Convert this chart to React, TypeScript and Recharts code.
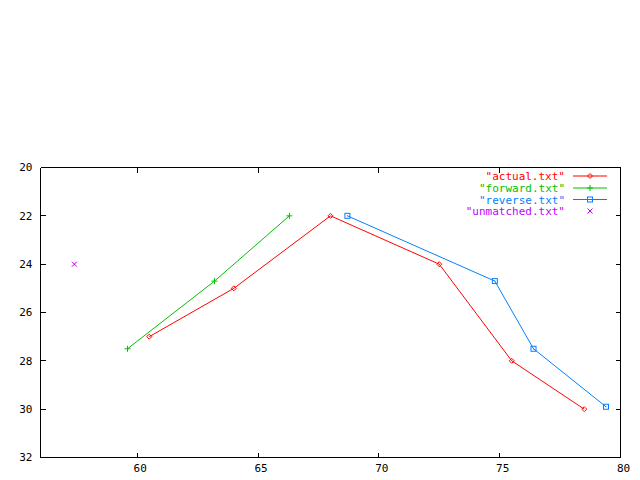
import React from "react";
import { ComposedChart, Line, Scatter, XAxis, YAxis } from "recharts";

// values
const actualX = [60.5, 64, 68, 72.5, 75.5, 78.5];
const actualY = [27, 25, 22, 24, 28, 30];
const forwardX = [59.6, 63.2, 66.3];
const forwardY = [27.5, 24.7, 22];
const reverseX = [68.7, 74.8, 76.4, 79.4];
const reverseY = [22, 24.7, 27.5, 29.9];
const unmatchedX = [57.4];
const unmatchedY = [24];

const xTicks = [60, 65, 70, 75, 80];
const yTicks = [20, 22, 24, 26, 28, 30, 32];
const seriesNames = ['"actual.txt"', '"forward.txt"', '"reverse.txt"', '"unmatched.txt"'];
const seriesColors = ["#ff0000", "#00c000", "#0080ff", "#c000ff"];

const W = 640;
const H = 480;
const FONT = "'DejaVu Sans Mono', monospace";

const toPoints = (xs: number[], ys: number[]) => xs.map((x, i) => ({ x, y: ys[i] }));

const actual = toPoints(actualX, actualY);
const forward = toPoints(forwardX, forwardY);
const reverse = toPoints(reverseX, reverseY);
const unmatched = toPoints(unmatchedX, unmatchedY);

type Shape = "diamond" | "plus" | "square" | "cross";
const shapes: Shape[] = ["diamond", "plus", "square", "cross"];

function Marker({ cx, cy, shape, color }: { cx: number; cy: number; shape: Shape; color: string }) {
  if (cx == null || cy == null) return null;
  const s = { stroke: color, strokeWidth: 1, fill: "none" };
  switch (shape) {
    case "diamond":
      return <path d={`M${cx} ${cy - 2.5}L${cx + 2.5} ${cy}L${cx} ${cy + 2.5}L${cx - 2.5} ${cy}Z`} {...s} />;
    case "plus":
      return <path d={`M${cx - 3} ${cy}H${cx + 3}M${cx} ${cy - 3}V${cy + 3}`} {...s} />;
    case "square":
      return (
        <g>
          <rect x={cx - 2.5} y={cy - 2.5} width={5} height={5} {...s} />
          <rect x={cx - 0.5} y={cy - 0.5} width={1} height={1} fill={color} />
        </g>
      );
    default:
      return <path d={`M${cx - 2.5} ${cy - 2.5}L${cx + 2.5} ${cy + 2.5}M${cx + 2.5} ${cy - 2.5}L${cx - 2.5} ${cy + 2.5}`} {...s} />;
  }
}

const dotFor = (i: number) => (p: any) => (
  <Marker key={`${i}-${p.index}`} cx={p.cx} cy={p.cy} shape={shapes[i]} color={seriesColors[i]} />
);

const noLabel = () => <g />;
const tickText = { fill: "#000", fontFamily: FONT, fontSize: 11 };
const frame = { stroke: "#000", strokeWidth: 1, shapeRendering: "crispEdges" };

function KeyBox() {
  const textRight = 565;
  const lineL = 573;
  const lineR = 607;
  const rows = [176, 188, 199.5, 211];
  return (
    <svg width={W} height={H} style={{ position: "absolute", left: 0, top: 0, pointerEvents: "none" }}>
      {seriesNames.map((name, i) => (
        <g key={name}>
          <text x={textRight} y={rows[i] + 4} textAnchor="end" fontFamily={FONT} fontSize={11} fill={seriesColors[i]}>
            {name}
          </text>
          {i < 3 && <line x1={lineL} x2={lineR} y1={rows[i]} y2={rows[i]} stroke={seriesColors[i]} />}
          <Marker cx={(lineL + lineR) / 2} cy={rows[i]} shape={shapes[i]} color={seriesColors[i]} />
        </g>
      ))}
    </svg>
  );
}

export default function App() {
  return (
    <div style={{ position: "absolute", left: 0, top: 0, width: W, height: H, background: "#fff" }}>
      <ComposedChart
        width={W}
        height={H}
        margin={{ top: 166.5, right: 18.5, bottom: 0, left: 0.5 }}
      >
        <XAxis
          xAxisId="b"
          type="number"
          dataKey="x"
          domain={[56, 80]}
          ticks={xTicks}
          height={22.5}
          tickSize={-5}
          tickMargin={12}
          tickLine={frame}
          axisLine={frame}
          tick={{ ...tickText, dx: 3 }}
          allowDataOverflow
        />
        <XAxis
          xAxisId="t"
          orientation="top"
          type="number"
          dataKey="x"
          domain={[56, 80]}
          ticks={xTicks}
          height={1}
          tickSize={-5}
          tickMargin={0}
          tickLine={frame}
          axisLine={frame}
          tick={noLabel}
          allowDataOverflow
        />
        <YAxis
          yAxisId="l"
          type="number"
          dataKey="y"
          domain={[20, 32]}
          ticks={yTicks}
          reversed
          width={40}
          tickSize={-5}
          tickMargin={13}
          tickLine={frame}
          axisLine={frame}
          tick={tickText}
          allowDataOverflow
        />
        <YAxis
          yAxisId="r"
          orientation="right"
          type="number"
          dataKey="y"
          domain={[20, 32]}
          ticks={yTicks}
          reversed
          width={1}
          tickSize={-5}
          tickMargin={0}
          tickLine={frame}
          axisLine={frame}
          tick={noLabel}
          allowDataOverflow
        />
        <Line
          xAxisId="b"
          yAxisId="l"
          data={actual}
          dataKey="y"
          stroke={seriesColors[0]}
          strokeWidth={1}
          dot={dotFor(0)}
          activeDot={false}
          isAnimationActive={false}
        />
        <Line
          xAxisId="b"
          yAxisId="l"
          data={forward}
          dataKey="y"
          stroke={seriesColors[1]}
          strokeWidth={1}
          dot={dotFor(1)}
          activeDot={false}
          isAnimationActive={false}
        />
        <Line
          xAxisId="b"
          yAxisId="l"
          data={reverse}
          dataKey="y"
          stroke={seriesColors[2]}
          strokeWidth={1}
          dot={dotFor(2)}
          activeDot={false}
          isAnimationActive={false}
        />
        <Scatter
          xAxisId="b"
          yAxisId="l"
          data={unmatched}
          dataKey="y"
          shape={(p: any) => <Marker cx={p.cx} cy={p.cy} shape="cross" color={seriesColors[3]} />}
          isAnimationActive={false}
        />
      </ComposedChart>
      <KeyBox />
    </div>
  );
}
